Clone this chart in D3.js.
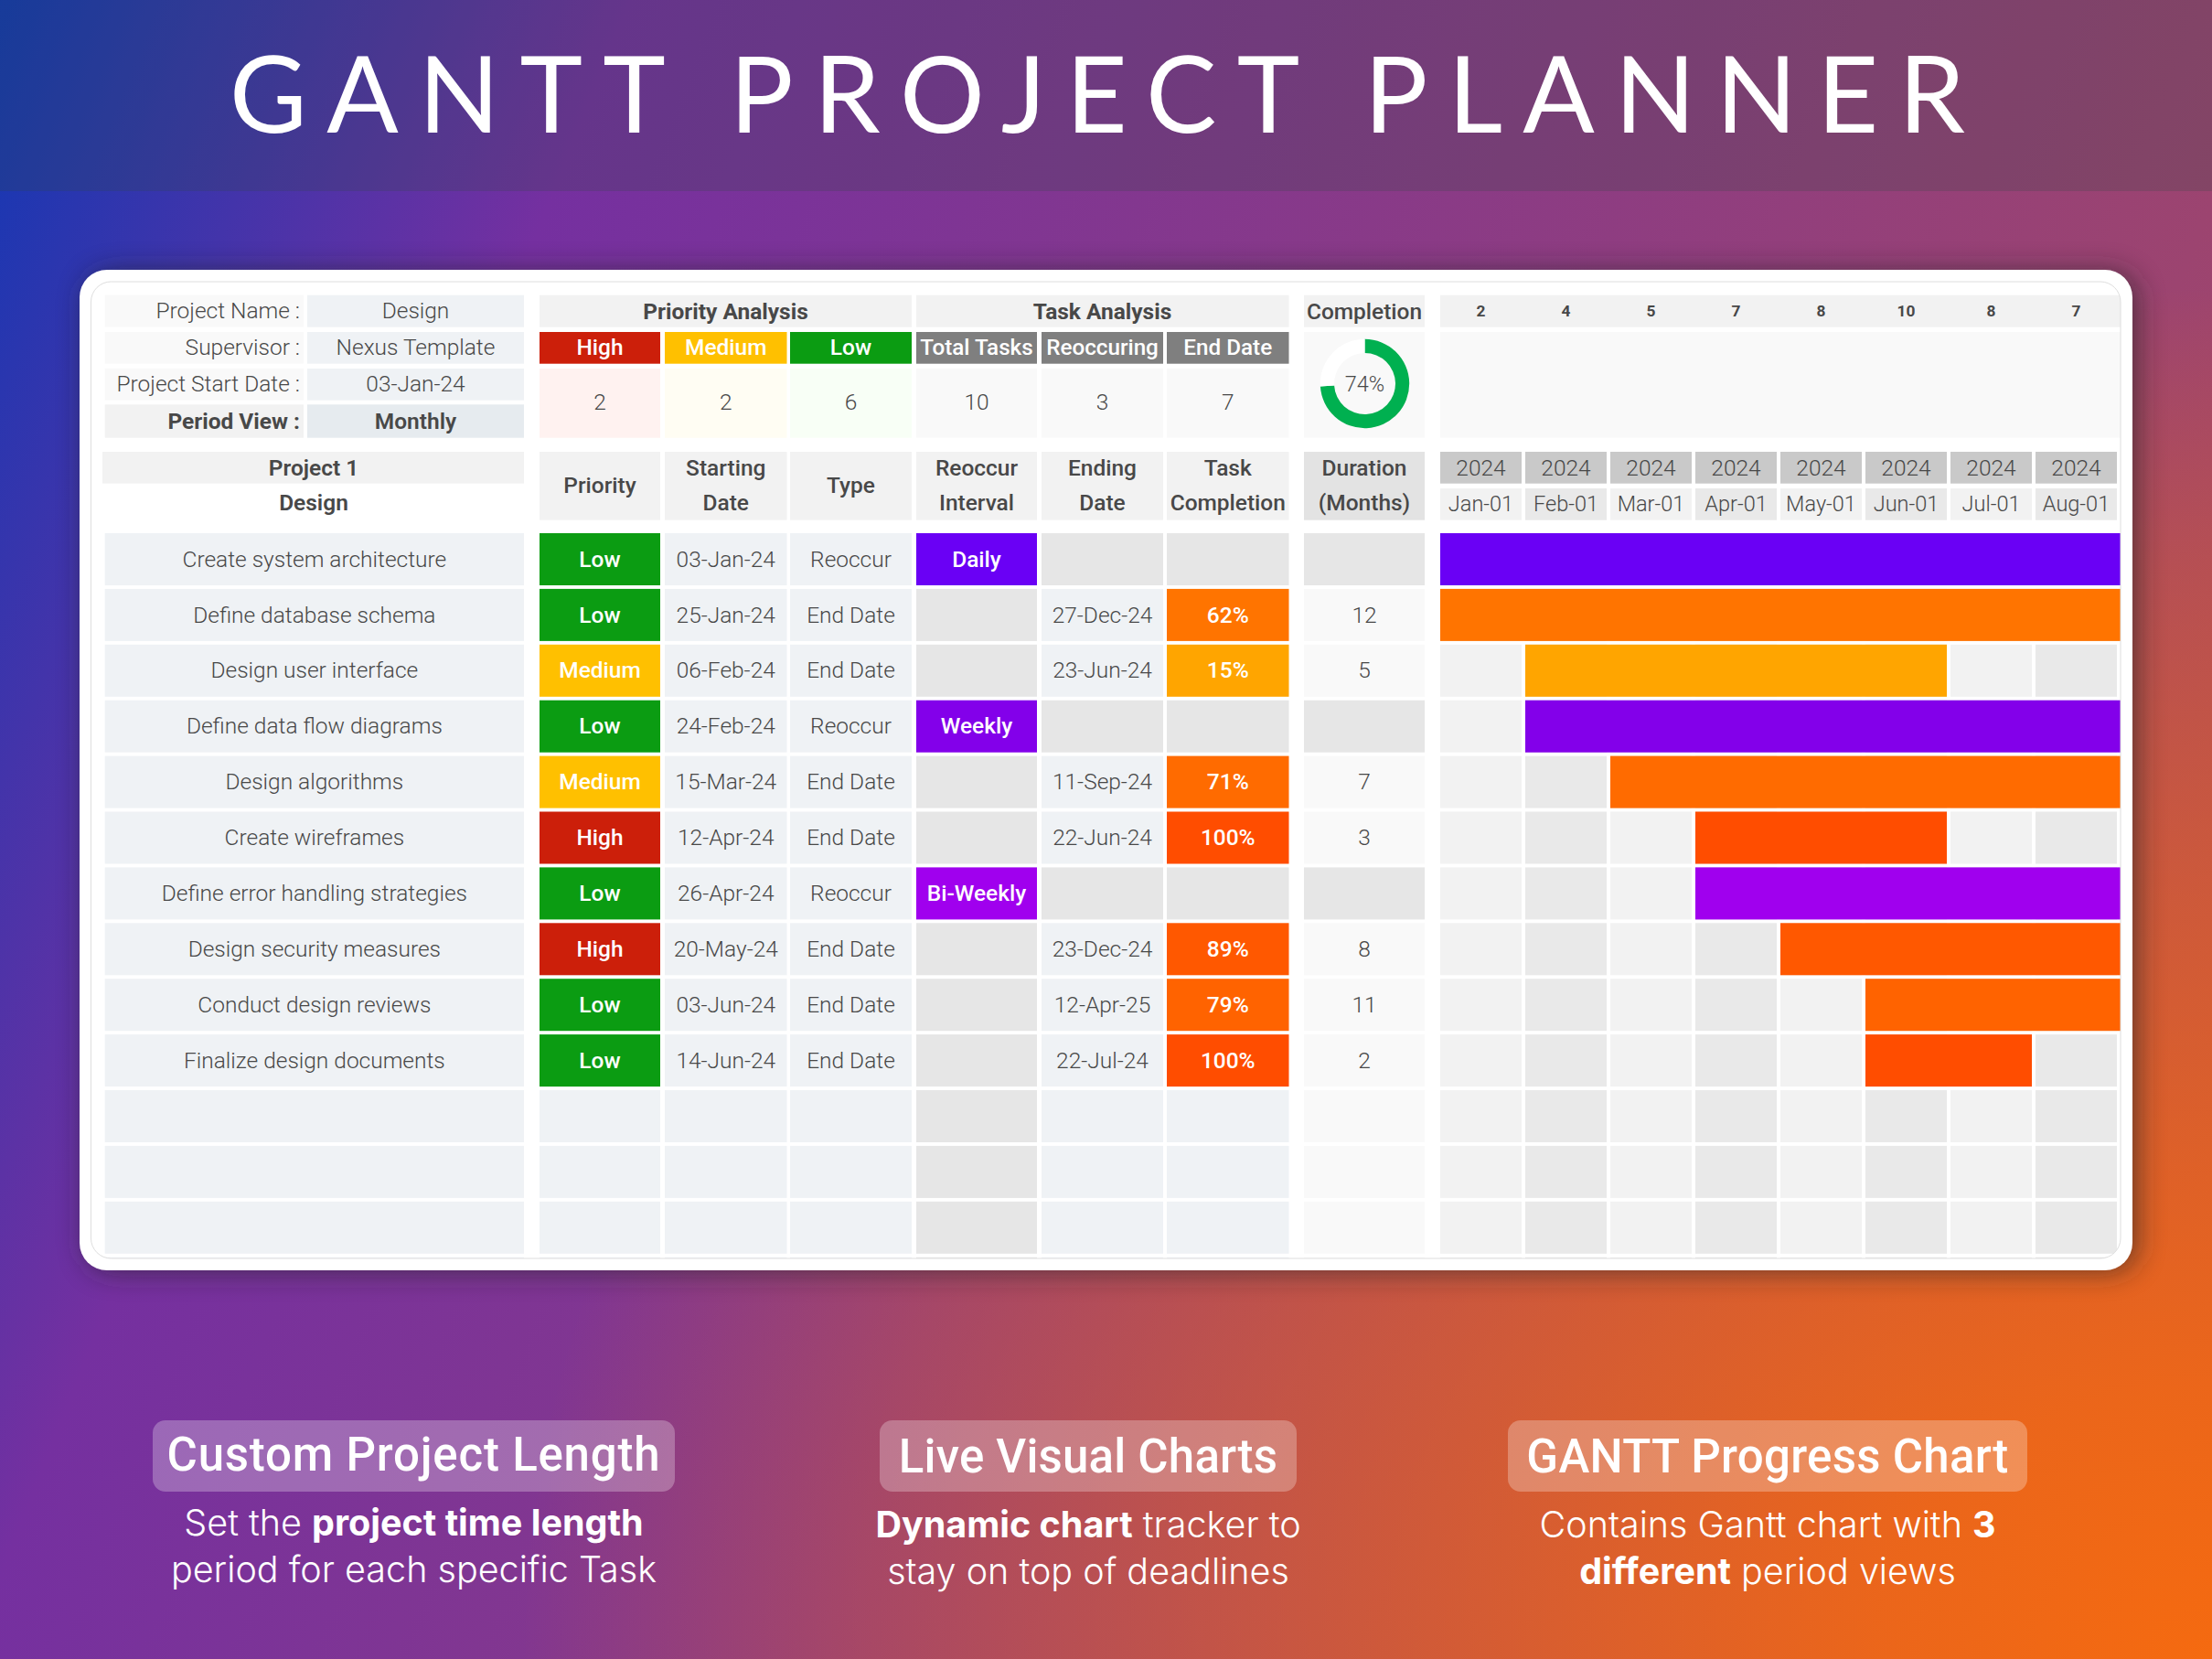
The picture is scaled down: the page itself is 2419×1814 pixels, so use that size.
<!DOCTYPE html>
<meta charset="utf-8">
<style>body{margin:0;background:#fff}svg{display:block}</style>

<!-- Load d3.js -->
<script src="https://d3js.org/d3.v7.min.js"></script>

<div id="my_dataviz"></div>

<script>
// task table
var taskNames = ["Create system architecture","Define database schema","Design user interface","Define data flow diagrams","Design algorithms","Create wireframes","Define error handling strategies","Design security measures","Conduct design reviews","Finalize design documents"];
var priorities = ["Low","Low","Medium","Low","Medium","High","Low","High","Low","Low"];
var startDates = ["03-Jan-24","25-Jan-24","06-Feb-24","24-Feb-24","15-Mar-24","12-Apr-24","26-Apr-24","20-May-24","03-Jun-24","14-Jun-24"];
var taskTypes = ["Reoccur","End Date","End Date","Reoccur","End Date","End Date","Reoccur","End Date","End Date","End Date"];
var reoccurIntervals = ["Daily","","","Weekly","","","Bi-Weekly","","",""];
var endDates = ["","27-Dec-24","23-Jun-24","","11-Sep-24","22-Jun-24","","23-Dec-24","12-Apr-25","22-Jul-24"];
var completions = [null,62,15,null,71,100,null,89,79,100];
var durations = [null,12,5,null,7,3,null,8,11,2];

// gantt bars, first and last month shown
var barFrom = ["Jan-01","Jan-01","Feb-01","Feb-01","Mar-01","Apr-01","Apr-01","May-01","Jun-01","Jun-01"];
var barTo = ["Aug-01","Aug-01","Jun-01","Aug-01","Aug-01","Jun-01","Aug-01","Aug-01","Aug-01","Jul-01"];

// timeline header
var months = ["Jan-01","Feb-01","Mar-01","Apr-01","May-01","Jun-01","Jul-01","Aug-01"];
var years = ["2024","2024","2024","2024","2024","2024","2024","2024"];
var monthCounts = [2,4,5,7,8,10,8,7];

// summary blocks
var infoLabels = ["Project Name :","Supervisor :","Project Start Date :","Period View :"];
var infoValues = ["Design","Nexus Template","03-Jan-24","Monthly"];
var priorityNames = ["High","Medium","Low"];
var priorityCounts = [2,2,6];
var taskStatNames = ["Total Tasks","Reoccuring","End Date"];
var taskStatCounts = [10,3,7];
var completionShare = 74;

var W = 2419, H = 1814;
var TXT = "#484848";
var REG = 350;
var FONT = "Roboto, sans-serif";
var SQUEEZE = 1.02;

var svg = d3.select("#my_dataviz").append("svg").attr("width", W).attr("height", H);
var defs = svg.append("defs");

// background gradients
var bg = defs.append("linearGradient").attr("id","bg").attr("gradientUnits","userSpaceOnUse")
  .attr("x1",0).attr("y1",0).attr("x2",2700).attr("y2",1080);
[[0,"#1138b4"],[.22,"#7530a0"],[.8,"#9c4470"],[1,"#a84a60"]].forEach(function(s){
  bg.append("stop").attr("offset",s[0]).attr("stop-color",s[1]);
});
var glow = defs.append("radialGradient").attr("id","glow")
  .attr("gradientUnits","userSpaceOnUse").attr("cx",0).attr("cy",0).attr("r",1)
  .attr("gradientTransform","translate(2419,1814) scale(1850,1500)");
[[0,1],[.2,.88],[.6,.48],[.8,.27],[1,0]].forEach(function(s){
  glow.append("stop").attr("offset",s[0]).attr("stop-color","#f56a10").attr("stop-opacity",s[1]);
});
var blur = defs.append("filter").attr("id","shadow").attr("x","-10%").attr("y","-10%").attr("width","120%").attr("height","125%");
blur.append("feGaussianBlur").attr("stdDeviation",15);

svg.append("rect").attr("width",W).attr("height",H).attr("fill","url(#bg)");
svg.append("rect").attr("width",W).attr("height",H).attr("fill","url(#glow)");
svg.append("rect").attr("width",W).attr("height",209).attr("fill","rgb(45,75,65)").attr("opacity",.22);

// title
svg.append("text").attr("x",1200).attr("y",145).attr("text-anchor","middle")
  .attr("textLength",1898).attr("lengthAdjust","spacing")
  .style("font-family","Lato, sans-serif").style("font-size","116px").style("font-weight",400)
  .attr("fill","#fff").text("GANTT PROJECT PLANNER");

// white panel
svg.append("rect").attr("x",93).attr("y",297).attr("width",2245).attr("height",1094).attr("rx",30)
  .attr("fill","#222").attr("opacity",.6).attr("filter","url(#shadow)");
svg.append("rect").attr("x",87).attr("y",295).attr("width",2245).attr("height",1094).attr("rx",30).attr("fill","#fff");
defs.append("clipPath").attr("id","inner").append("rect")
  .attr("x",99.5).attr("y",308).attr("width",2219.5).attr("height",1068).attr("rx",22);

var sheet = svg.append("g").attr("clip-path","url(#inner)");

function cell(x0, x1, y0, y1, fill) {
  return sheet.append("rect").attr("x",x0).attr("y",y0).attr("width",x1-x0).attr("height",y1-y0).attr("fill",fill);
}
function label(str, x, y, opts) {
  opts = opts || {};
  return sheet.append("text")
    .attr("transform","translate("+x+","+y+") scale("+(opts.sx||SQUEEZE)+",1)")
    .attr("text-anchor",opts.anchor||"middle").attr("dy","0.36em")
    .style("font-family",FONT).style("font-size",(opts.size||24)+"px").style("font-weight",opts.weight||REG)
    .attr("fill",opts.fill||TXT).text(str);
}

// column edges
var col = {
  name:[114.7,573], priority:[590,722], start:[727,860.5], type:[864,997],
  interval:[1002,1134], end:[1139,1272], done:[1276,1409.5], dur:[1426,1558]
};
function mid(c){ return (c[0]+c[1])/2; }

// scales
var rowCount = 14;
var y = d3.scaleBand().domain(d3.range(rowCount)).range([583,583+rowCount*60.9-3.9]).paddingInner(3.9/60.9);
var x = d3.scaleBand().domain(months).range([1575,2315]).paddingInner(4/93);
var priorityColor = d3.scaleOrdinal().domain(priorityNames).range(["#cc1f0a","#ffc000","#0b9c12"]);
var intervalColor = d3.scaleOrdinal().domain(["Daily","Weekly","Bi-Weekly"]).range(["#6a00f5","#8300ea","#a000ee"]);
var doneColor = d3.scaleLinear().domain([15,100]).range(["#ffa500","#ff4d00"]);

// project info block
var infoY = [[322.7,357.7],[363,397.7],[403,437.7],[442.3,478.7]];
infoLabels.forEach(function(d,i){
  var bold = i==3;
  cell(114.7,332,infoY[i][0],infoY[i][1], bold ? "#f2f2f2" : "#f9f9f9");
  cell(336,573,infoY[i][0],infoY[i][1], bold ? "#e6ebef" : "#eff2f5");
  label(d,328,(infoY[i][0]+infoY[i][1])/2-0.5,{anchor:"end",weight:bold?700:REG});
  label(infoValues[i],454.5,(infoY[i][0]+infoY[i][1])/2-0.5,{weight:bold?600:REG});
});

// priority + task analysis
cell(590,997,322.7,357.7,"#f2f2f2");
label("Priority Analysis",793.5,340,{weight:700});
cell(1002,1409.5,322.7,357.7,"#f2f2f2");
label("Task Analysis",1205.5,340,{weight:700});
cell(1426,1558,322.7,357.7,"#f2f2f2");
label("Completion",1492,340,{weight:500});
var prioCols = [col.priority,col.start,col.type];
var tintCols = ["#fff2f0","#fffdf3","#f8fff6"];
priorityNames.forEach(function(d,i){
  cell(prioCols[i][0],prioCols[i][1],363,397.7,priorityColor(d));
  label(d,mid(prioCols[i]),379,{fill:"#fff",weight:500});
  cell(prioCols[i][0],prioCols[i][1],403,478.7,tintCols[i]);
  label(priorityCounts[i],mid(prioCols[i]),439.5);
});
var statCols = [col.interval,col.end,col.done];
taskStatNames.forEach(function(d,i){
  cell(statCols[i][0],statCols[i][1],363,397.7,"#7f7f7f");
  label(d,mid(statCols[i]),379,{fill:"#fff",weight:500,sx:1.01});
  cell(statCols[i][0],statCols[i][1],403,478.7,"#f9f9f9");
  label(taskStatCounts[i],mid(statCols[i]),439.5);
});

// completion donut
cell(1426,1558,363,478.7,"#f9f9f9");
var pie = d3.pie().sort(null).value(function(d){return d});
var arc = d3.arc().innerRadius(33.5).outerRadius(48.7);
sheet.append("g").attr("transform","translate(1492.5,419.5)")
  .selectAll("path").data(pie([completionShare,100-completionShare])).enter().append("path")
  .attr("d",arc).attr("fill",function(d,i){return i==0 ? "#00b050" : "#ffffff"});
label(completionShare+"%",1492.5,419.5,{weight:300,size:23});

// timeline top strip and chart area
cell(1575,2319,322.7,357.7,"#f2f2f2");
cell(1575,2319,363,478.7,"#f9f9f9");
months.forEach(function(m,i){
  label(monthCounts[i],x(m)+x.bandwidth()/2,340,{weight:700,size:17});
  cell(x(m),x(m)+x.bandwidth(),494,528.7,"#c9c9c9");
  label(years[i],x(m)+x.bandwidth()/2,511);
  cell(x(m),x(m)+x.bandwidth(),534,568.7,i%2 ? "#e9e9e9" : "#f2f2f2");
  label(m,x(m)+x.bandwidth()/2,550.5,{sx:.98});
});

// table headers
cell(112,573,494,528.7,"#f2f2f2");
label("Project 1",343,511,{weight:600});
label("Design",343,549.5,{weight:600});
function header(c, lines, fill) {
  cell(c[0],c[1],494,568.7,fill||"#f2f2f2");
  if (lines.length==1) label(lines[0],mid(c),530.5,{weight:500});
  else { label(lines[0],mid(c),511,{weight:500}); label(lines[1],mid(c),549,{weight:500}); }
}
header(col.priority,["Priority"]);
header(col.start,["Starting","Date"]);
header(col.type,["Type"]);
header(col.interval,["Reoccur","Interval"]);
header(col.end,["Ending","Date"]);
header(col.done,["Task","Completion"]);
header(col.dur,["Duration","(Months)"],"#e3e3e3");

// rows
var LIGHT = "#eff2f5", GREY = "#e6e6e6";
d3.range(rowCount).forEach(function(r){
  var y0 = y(r), y1 = y0+y.bandwidth(), yc = (y0+y1)/2-0.5;
  var has = r < taskNames.length;
  var reoccur = has && taskTypes[r]=="Reoccur";

  cell(col.name[0],col.name[1],y0,y1,LIGHT);
  cell(col.priority[0],col.priority[1],y0,y1,has ? priorityColor(priorities[r]) : LIGHT);
  cell(col.start[0],col.start[1],y0,y1,LIGHT);
  cell(col.type[0],col.type[1],y0,y1,LIGHT);
  cell(col.interval[0],col.interval[1],y0,y1,reoccur ? intervalColor(reoccurIntervals[r]) : GREY);
  cell(col.end[0],col.end[1],y0,y1,reoccur ? GREY : LIGHT);
  cell(col.done[0],col.done[1],y0,y1,reoccur ? GREY : (has ? doneColor(completions[r]) : LIGHT));
  cell(col.dur[0],col.dur[1],y0,y1,reoccur ? GREY : "#f9f9f9");

  // gantt background cells
  months.forEach(function(m,i){
    cell(x(m),x(m)+x.bandwidth(),y0,y1,i%2 ? "#e9e9e9" : "#f2f2f2");
  });

  if (!has) return;
  label(taskNames[r],mid(col.name),yc);
  label(priorities[r],mid(col.priority),yc,{fill:"#fff",weight:500});
  label(startDates[r],mid(col.start),yc);
  label(taskTypes[r],mid(col.type),yc);
  if (reoccur) label(reoccurIntervals[r],mid(col.interval),yc,{fill:"#fff",weight:500});
  else {
    label(endDates[r],mid(col.end),yc);
    label(completions[r]+"%",mid(col.done),yc,{fill:"#fff",weight:500});
    label(durations[r],mid(col.dur),yc);
  }

  // gantt bar
  var barEnd = x(barTo[r])+x.bandwidth();
  if (barTo[r]==months[months.length-1]) barEnd += 4;
  cell(x(barFrom[r]),barEnd,y0,y1,reoccur ? intervalColor(reoccurIntervals[r]) : doneColor(completions[r]));
});

// inner hairline
svg.append("rect").attr("x",99.5).attr("y",308).attr("width",2219.5).attr("height",1068).attr("rx",22)
  .attr("fill","none").attr("stroke","#dedede").attr("stroke-width",1);

// feature captions
var featureTitles = ["Custom Project Length","Live Visual Charts","GANTT Progress Chart"];
var featureLine1 = [[["Set the ",300],["project time length",700]],[["Dynamic chart",700],[" tracker to",300]],[["Contains Gantt chart with ",300],["3",700]]];
var featureLine2 = [[["period for each specific Task",300]],[["stay on top of deadlines",300]],[["different",700],[" period views",300]]];
var pillEdges = [[167,738],[962,1418],[1649,2217]];
var titleSpacing = [0.8,0.2,0.3];

featureTitles.forEach(function(d,i){
  var e = pillEdges[i], cx = (e[0]+e[1])/2;
  svg.append("rect").attr("x",e[0]).attr("y",1553).attr("width",e[1]-e[0]).attr("height",78).attr("rx",14)
    .attr("fill","#fff").attr("opacity",.27);
  svg.append("text").attr("x",cx).attr("y",i==0?1608:1610).attr("text-anchor","middle")
    .style("font-family",FONT).style("font-size","51px").style("font-weight",500).style("letter-spacing",titleSpacing[i]+"px")
    .attr("fill","#fff").text(d);
  [featureLine1[i],featureLine2[i]].forEach(function(parts,j){
    var t = svg.append("text").attr("x",cx).attr("y",(i==0?1679:1681)+j*51).attr("text-anchor","middle")
      .style("font-family","Inter, sans-serif").style("font-size","39.5px").style("white-space","pre").attr("fill","#fff");
    parts.forEach(function(p){
      t.append("tspan").style("font-weight",p[1]).text(p[0]);
    });
  });
});
</script>
